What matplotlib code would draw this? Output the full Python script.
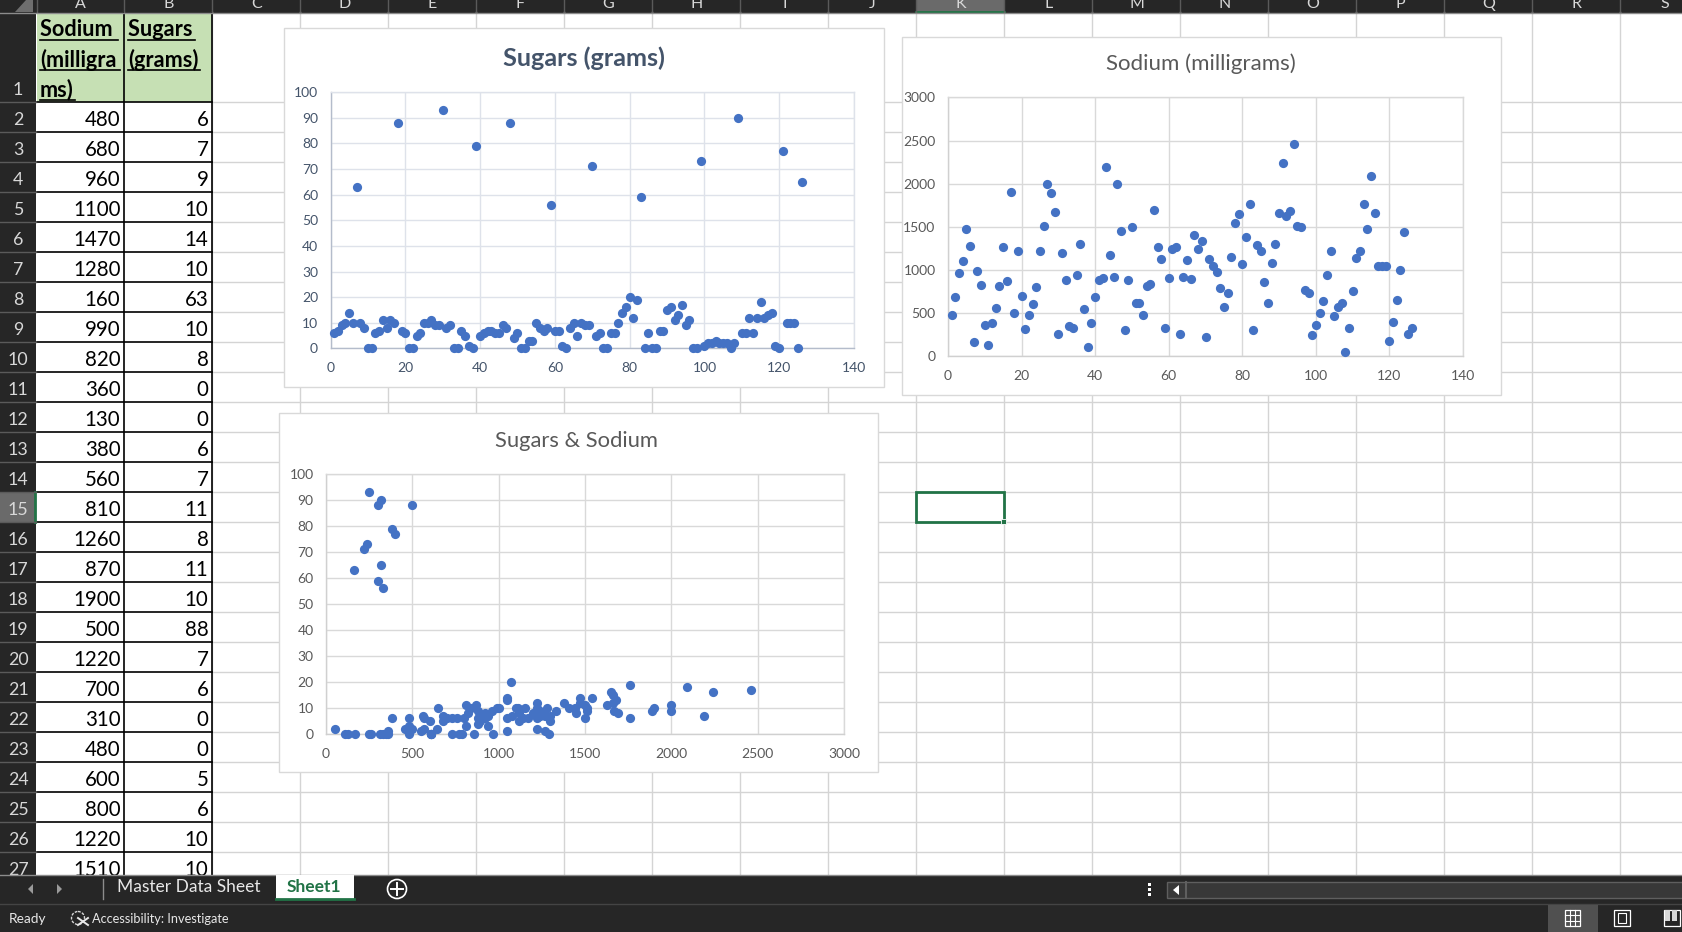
#import necessary libraries
import numpy as np
import matplotlib
matplotlib.use('Agg')
import matplotlib.pyplot as plt
from matplotlib.patches import Rectangle, Circle, Polygon

plt.rcParams['font.family'] = ['Lato', 'DejaVu Sans']

sodium = [480, 680, 960, 1100, 1470, 1280, 160, 990, 820, 360, 130, 380, 560, 810, 1260, 870, 1900, 500,
          1220, 700, 310, 480, 600, 800, 1220, 1510, 2000, 1890, 1670, 250, 1200, 880, 350, 330, 940, 1300,
          550, 110, 380, 680, 880, 900, 2190, 1170, 920, 2000, 1450, 300, 880, 1500, 610, 610, 480, 810,
          840, 1690, 1270, 1120, 330, 900, 1240, 1270, 260, 920, 1110, 890, 1410, 1240, 1330, 220, 1120,
          1050, 970, 790, 570, 730, 1150, 1540, 1650, 1070, 1380, 1760, 300, 1290, 1220, 860, 610, 1080,
          1300, 1660, 2240, 1630, 1680, 2460, 1510, 1500, 770, 730, 240, 360, 500, 640, 940, 1220, 460,
          570, 610, 50, 320, 760, 1140, 1220, 1760, 1470, 2090, 1660, 1050, 1050, 1050, 170, 400, 650,
          1000, 1440, 250, 320]
sugars = [6, 7, 9, 10, 14, 10, 63, 10, 8, 0, 0, 6, 7, 11, 8, 11, 10, 88, 7, 6, 0, 0, 5, 6, 10, 10, 11, 9, 9,
          93, 8, 9, 0, 0, 7, 5, 1, 0, 79, 5, 6, 7, 7, 6, 6, 9, 8, 88, 4, 6, 0, 0, 3, 3, 10, 8, 7, 8, 56, 7,
          7, 1, 0, 8, 10, 5, 10, 9, 9, 71, 5, 6, 0, 0, 6, 6, 10, 14, 16, 20, 12, 19, 59, 0, 6, 0, 0, 7, 7,
          15, 16, 11, 13, 17, 9, 11, 0, 0, 73, 1, 2, 2, 3, 2, 2, 2, 0, 2, 90, 6, 6, 12, 6, 12, 18, 12, 13,
          14, 1, 0, 77, 10, 10, 10, 0, 65]
row_index = list(range(1, len(sodium) + 1))

column_letters = list('ABCDEFGHIJKLMNOPQRS')
index_ticks = [0, 20, 40, 60, 80, 100, 120, 140]
sodium_ticks = [0, 500, 1000, 1500, 2000, 2500, 3000]
sugar_ticks = [0, 10, 20, 30, 40, 50, 60, 70, 80, 90, 100]

W, H = 1682, 932
DARK = '#262626'
GREEN = '#217346'
GRID = '#D4D4D4'

fig = plt.figure(figsize=(W / 100, H / 100), dpi=100)

#whole figure axes in pixels, used for the spreadsheet around the charts
sheet = fig.add_axes([0, 0, 1, 1], zorder=0)
sheet.set_xlim(0, W)
sheet.set_ylim(H, 0)
sheet.axis('off')

col_left = 37
row1_bottom = 102.3
row_h = 30
col_w = 88
sheet_bottom = 875

def col_x(i):
    #left edge of a column, A and B are a bit narrower
    if i == 0:
        return col_left
    if i == 1:
        return 124.5
    return 212.5 + (i - 2) * col_w

def row_bottom(n):
    return row1_bottom + (n - 1) * row_h

#grid of the empty cells
for i in range(2, len(column_letters) + 1):
    sheet.plot([col_x(i)] * 2, [12, sheet_bottom], color=GRID, lw=1)
for n in range(1, 28):
    sheet.plot([212.5, W], [row_bottom(n)] * 2, color=GRID, lw=1)

#header cells and data cells
sheet.add_patch(Rectangle((37, 12.5), 175.5, row1_bottom - 12.5, fc='#C6E0B4', ec='none'))
for x in [col_x(1), col_x(2)]:
    sheet.plot([x, x], [12.5, sheet_bottom], color='black', lw=1.2)
for n in range(1, 28):
    sheet.plot([37, 212.5], [row_bottom(n)] * 2, color='black', lw=1.2)

header_lines = [(40, 'Sodium ', 30, 78), (40, '(milligra', 60, 80), (40, 'ms)', 90, 35),
                (128, 'Sugars ', 30, 67), (128, '(grams)', 60, 72)]
for x, label, y, w in header_lines:
    sheet.text(x, y, label, fontsize=15.6, fontweight='bold', color='black', ha='left', va='center')
    sheet.plot([x, x + w], [y + 10, y + 10], color='black', lw=1.2)

for n in range(2, 28):
    y = row_bottom(n) - row_h / 2 + 3
    sheet.text(col_x(1) - 4, y, str(sodium[n - 2]), fontsize=14.8, color='black', ha='right', va='center')
    sheet.text(col_x(2) - 4, y, str(sugars[n - 2]), fontsize=14.8, color='black', ha='right', va='center')

#row and column headers
sheet.add_patch(Rectangle((0, 0), W, 12.5, fc=DARK, ec='none'))
sheet.add_patch(Rectangle((0, 0), 36.5, sheet_bottom, fc=DARK, ec='none'))
sheet.add_patch(Polygon([(15, 12), (33, 12), (33, 0), (26, 0)], fc='#6E6E6E', ec='none'))
sheet.add_patch(Rectangle((col_x(10), 0), col_w, 12, fc='#6A6A6A', ec='none'))
sheet.plot([col_x(10), col_x(11)], [11.5, 11.5], color=GREEN, lw=2)
sheet.add_patch(Rectangle((0, row_bottom(14)), 36, row_h, fc='#6A6A6A', ec='none'))
sheet.plot([35.5, 35.5], [row_bottom(14), row_bottom(15)], color=GREEN, lw=2)

for i, letter in enumerate(column_letters):
    x0 = col_x(i)
    x1 = col_x(i + 1)
    sheet.text((x0 + x1) / 2, 4, letter, fontsize=11.5, color='#D8D8D8', ha='center', va='center')
    sheet.plot([x0, x0], [0, 12], color='#5A5A5A', lw=1)
sheet.plot([0, W], [12.5, 12.5], color='#8C8C8C', lw=1)
for n in range(1, 28):
    sheet.plot([0, 36.5], [row_bottom(n)] * 2, color='#5A5A5A', lw=1)
    sheet.text(18, row_bottom(n) - 12, str(n), fontsize=12.8, color='#D8D8D8', ha='center', va='center')

#selected cell
sheet.add_patch(Rectangle((col_x(10), row_bottom(14)), col_w, row_h, fc='none', ec=GREEN, lw=2, zorder=6))
sheet.add_patch(Rectangle((col_x(11) - 3, row_bottom(15) - 3), 5, 5, fc=GREEN, ec='white', lw=0.6, zorder=7))

#tab bar and status bar
sheet.add_patch(Rectangle((0, sheet_bottom), W, H - sheet_bottom, fc=DARK, ec='none', zorder=5))
sheet.plot([0, W], [sheet_bottom, sheet_bottom], color='#8C8C8C', lw=1, zorder=6)
sheet.plot([0, W], [904, 904], color='#444444', lw=1, zorder=6)
sheet.add_patch(Polygon([(33, 884), (33, 894), (28, 889)], fc='#9A9A9A', ec='none', zorder=6))
sheet.add_patch(Polygon([(57, 884), (57, 894), (62, 889)], fc='#9A9A9A', ec='none', zorder=6))
sheet.plot([103, 103], [879, 899], color='#8C8C8C', lw=1, zorder=6)
sheet.text(189, 887, 'Master Data Sheet', fontsize=12.5, color='#E8E8E8', ha='center', va='center', zorder=6)
sheet.add_patch(Rectangle((276, sheet_bottom), 78, 24, fc='white', ec='none', zorder=6))
sheet.plot([276, 354], [899, 899], color=GREEN, lw=2, zorder=7)
sheet.text(314, 887, 'Sheet1', fontsize=12.5, fontweight='bold', color=GREEN, ha='center', va='center', zorder=7)
sheet.add_patch(Circle((397, 889), 9.5, fc='none', ec='white', lw=1.2, zorder=6))
sheet.plot([391, 403], [889, 889], color='white', lw=1.4, zorder=6)
sheet.plot([397, 397], [883, 895], color='white', lw=1.4, zorder=6)

sheet.text(9, 919, 'Ready', fontsize=9.8, color='#E8E8E8', ha='left', va='center', zorder=6)
sheet.add_patch(Circle((78, 918), 6.5, fc='none', ec='#D8D8D8', lw=1, ls=(0, (2, 1)), zorder=6))
sheet.plot([78, 88], [918, 925], color='#E8E8E8', lw=1.4, zorder=6)
sheet.plot([88, 78], [918, 925], color='#E8E8E8', lw=1.4, zorder=6)
sheet.text(92, 919, 'Accessibility: Investigate', fontsize=9.2, color='#E8E8E8', ha='left', va='center', zorder=6)

for y in [884, 889, 894]:
    sheet.add_patch(Rectangle((1148.5, y - 1.5), 3, 3, fc='white', ec='none', zorder=6))
sheet.add_patch(Rectangle((1167.5, 882), 520, 16, fc='#383838', ec='#5F5F5F', lw=1, zorder=6))
sheet.plot([1186, 1186], [882, 898], color='#5F5F5F', lw=1.5, zorder=6)
sheet.add_patch(Polygon([(1179, 885), (1179, 895), (1173, 890)], fc='white', ec='none', zorder=7))

sheet.add_patch(Rectangle((1548, 905), 50, 27, fc='#505050', ec='none', zorder=6))
sheet.add_patch(Rectangle((1565, 910), 15, 16, fc='none', ec='white', lw=0.9, zorder=7))
for f in [1 / 3, 2 / 3]:
    sheet.plot([1565 + 15 * f] * 2, [910, 926], color='white', lw=0.8, zorder=7)
    sheet.plot([1565, 1580], [910 + 16 * f] * 2, color='white', lw=0.8, zorder=7)
sheet.add_patch(Rectangle((1614, 910), 16, 16, fc='none', ec='white', lw=0.9, zorder=7))
sheet.add_patch(Rectangle((1618, 913), 8, 10, fc='none', ec='white', lw=0.8, zorder=7))
sheet.add_patch(Rectangle((1664, 910), 16, 16, fc='none', ec='white', lw=0.9, zorder=7))
sheet.add_patch(Rectangle((1665, 910), 5, 11, fc='#D8D8D8', ec='none', zorder=7))
sheet.add_patch(Rectangle((1672, 910), 5, 11, fc='#D8D8D8', ec='none', zorder=7))


def add_chart(frame, plot_box, x, y, xticks, yticks, chart_style):
    #frame and plot_box are (left, top, right, bottom) in pixels
    l, t, r, b = frame
    sheet.add_patch(Rectangle((l, t), r - l, b - t, fc='white', ec='#D9D9D9', lw=1, zorder=3))
    l, t, r, b = plot_box
    ax = fig.add_axes([l / W, 1 - b / H, (r - l) / W, (b - t) / H], zorder=2)
    ax.scatter(x, y, s=44, color='#4472C4', linewidths=0, zorder=3, clip_on=False)
    ax.set_xlim(xticks[0], xticks[-1])
    ax.set_ylim(yticks[0], yticks[-1])
    ax.set_xticks(xticks)
    ax.set_yticks(yticks)
    ax.grid(True, color=chart_style['grid'], lw=1)
    ax.set_axisbelow(True)
    ax.tick_params(length=0, labelsize=10, labelcolor=chart_style['ticks'])
    ax.tick_params(axis='x', pad=chart_style['xpad'])
    ax.tick_params(axis='y', pad=9)
    for side in ax.spines:
        ax.spines[side].set_color(chart_style['grid'])
        ax.spines[side].set_linewidth(1)
    ax.spines['left'].set_color(chart_style['axis'])
    ax.spines['bottom'].set_color(chart_style['axis'])
    return ax


style_blue = {'grid': '#DEE2EA', 'axis': '#B4BCCB', 'ticks': '#44546A', 'xpad': 10}
style_grey = {'grid': '#D9D9D9', 'axis': '#D0D0D0', 'ticks': '#595959', 'xpad': 10}

add_chart((284, 28, 884, 387), (330.5, 92, 854, 348.5), row_index, sugars,
          index_ticks, sugar_ticks, style_blue)
sheet.text(583.5, 58, 'Sugars (grams)', fontsize=18.2, fontweight='bold', color='#44546A',
           ha='center', va='center', zorder=4)

add_chart((902, 36.5, 1501, 395), (948, 97.5, 1463, 356), row_index, sodium,
          index_ticks, sodium_ticks, style_grey)
sheet.text(1201, 63.5, 'Sodium (milligrams)', fontsize=16, color='#595959',
           ha='center', va='center', zorder=4)

add_chart((279, 413, 878.5, 772), (326, 474, 844, 734), sodium, sugars,
          sodium_ticks, sugar_ticks, style_grey)
sheet.text(577, 441, 'Sugars & Sodium', fontsize=15.8, color='#595959',
           ha='center', va='center', zorder=4)

fig.savefig('out.png', dpi=100)
